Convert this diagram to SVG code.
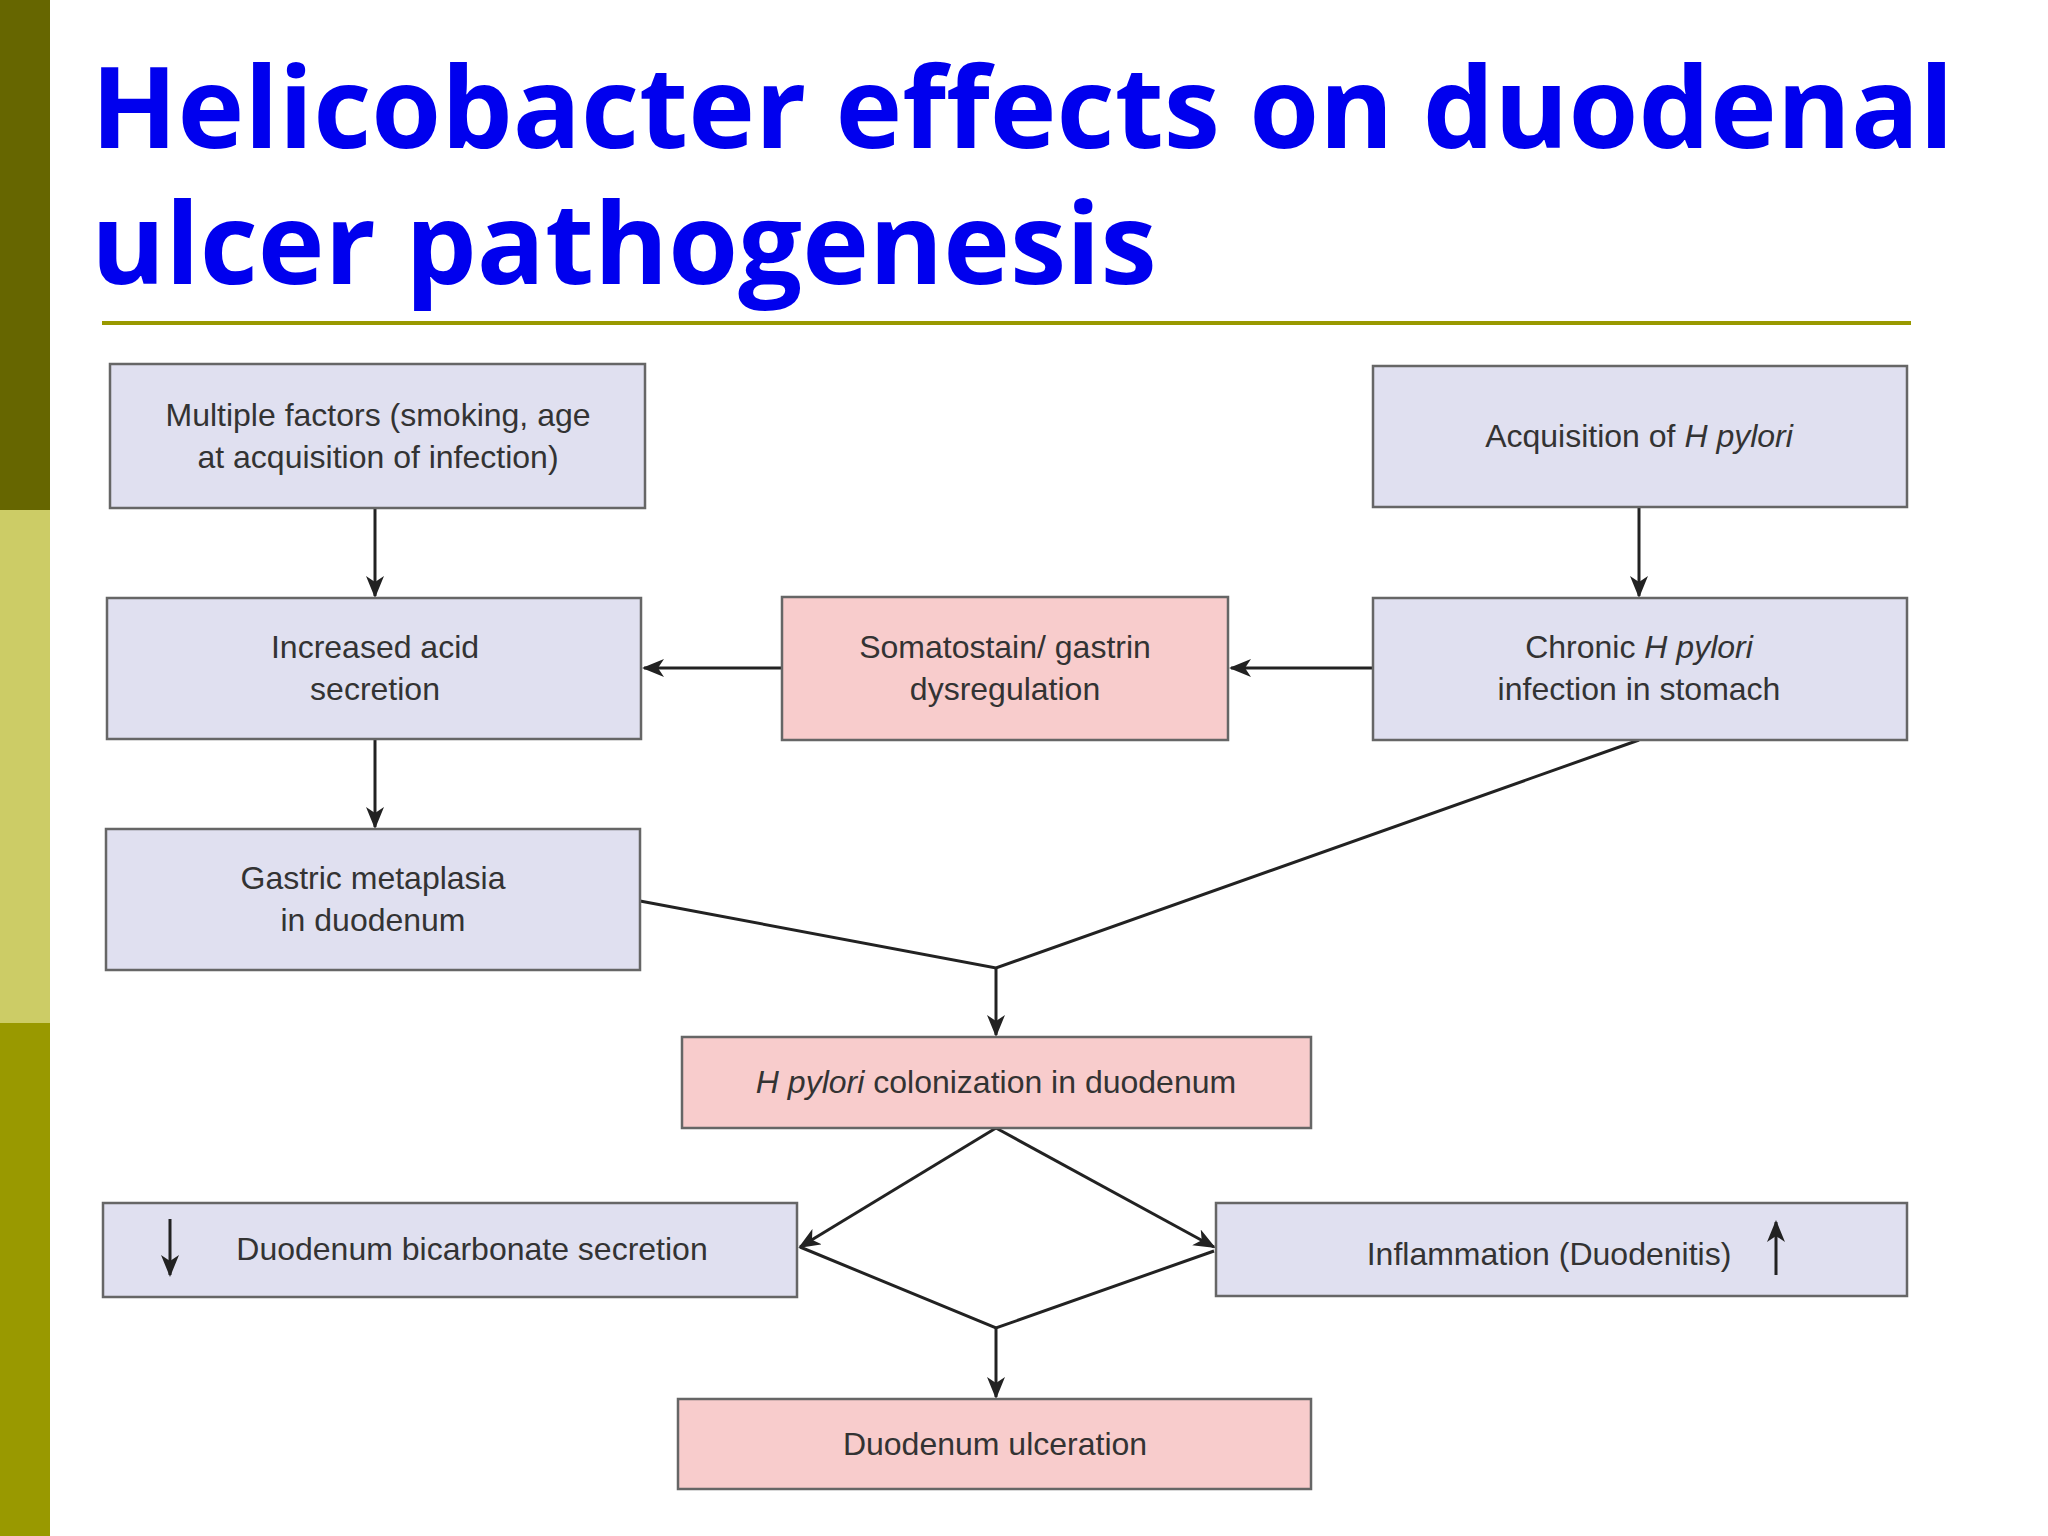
<svg xmlns="http://www.w3.org/2000/svg" width="2048" height="1536" viewBox="0 0 2048 1536">
<defs>
<marker id="ah" markerWidth="22" markerHeight="18" refX="20" refY="9" orient="auto" markerUnits="userSpaceOnUse"><path d="M0,0 L22,9 L0,18 L6,9 Z" fill="#222"/></marker>
</defs>
<style>
.bl{fill:#e0e0f0;stroke:#666;stroke-width:2.5}
.pk{fill:#f8cccc;stroke:#666;stroke-width:2.5}
.t{font-family:"Liberation Sans",Arial,sans-serif;font-size:32px;fill:#333;text-anchor:middle}
.c{stroke:#222;stroke-width:3;fill:none}
.a{stroke:#222;stroke-width:3;fill:none;marker-end:url(#ah)}
</style>
<rect width="2048" height="1536" fill="#fff"/>
<rect x="0" y="0" width="50" height="510" fill="#666600"/>
<rect x="0" y="510" width="50" height="513" fill="#cccc66"/>
<rect x="0" y="1023" width="50" height="513" fill="#999900"/>
<text x="91" y="148" font-family="'Open Sans','Noto Sans',sans-serif" font-weight="bold" font-size="113" fill="#0000ee">Helicobacter effects on duodenal</text>
<text x="91" y="284" font-family="'Open Sans','Noto Sans',sans-serif" font-weight="bold" font-size="113" fill="#0000ee">ulcer pathogenesis</text>
<line x1="102" y1="323" x2="1911" y2="323" stroke="#999900" stroke-width="4"/>
<g id="connectors">
<line class="a" x1="375" y1="508" x2="375" y2="596"/>
<line class="a" x1="1639" y1="507" x2="1639" y2="596"/>
<line class="a" x1="782" y1="668" x2="644" y2="668"/>
<line class="a" x1="1373" y1="668" x2="1231" y2="668"/>
<line class="a" x1="375" y1="739" x2="375" y2="827"/>
<polyline class="c" points="640,901 996,968 1639,740"/>
<line class="a" x1="996" y1="968" x2="996" y2="1035"/>
<line class="a" x1="996" y1="1128" x2="800" y2="1247"/>
<line class="a" x1="996" y1="1128" x2="1214" y2="1247"/>
<polyline class="c" points="800,1247 996,1328 1214,1251"/>
<line class="a" x1="996" y1="1328" x2="996" y2="1397"/>
</g>
<g id="n1"><rect class="bl" x="110" y="364" width="535" height="144"/><text class="t" x="378" y="426">Multiple factors (smoking, age</text><text class="t" x="378" y="468">at acquisition of infection)</text></g>
<g id="n2"><rect class="bl" x="1373" y="366" width="534" height="141"/><text class="t" x="1639" y="447">Acquisition of <tspan font-style="italic">H pylori</tspan></text></g>
<g id="n3"><rect class="bl" x="107" y="598" width="534" height="141"/><text class="t" x="375" y="658">Increased acid</text><text class="t" x="375" y="700">secretion</text></g>
<g id="n4"><rect class="pk" x="782" y="597" width="446" height="143"/><text class="t" x="1005" y="658">Somatostain/ gastrin</text><text class="t" x="1005" y="700">dysregulation</text></g>
<g id="n5"><rect class="bl" x="1373" y="598" width="534" height="142"/><text class="t" x="1639" y="658">Chronic <tspan font-style="italic">H pylori</tspan></text><text class="t" x="1639" y="700">infection in stomach</text></g>
<g id="n6"><rect class="bl" x="106" y="829" width="534" height="141"/><text class="t" x="373" y="889">Gastric metaplasia</text><text class="t" x="373" y="931">in duodenum</text></g>
<g id="n7"><rect class="pk" x="682" y="1037" width="629" height="91"/><text class="t" x="996" y="1093"><tspan font-style="italic">H pylori</tspan> colonization in duodenum</text></g>
<g id="n8"><rect class="bl" x="103" y="1203" width="694" height="94"/><text class="t" x="472" y="1260">Duodenum bicarbonate secretion</text><line class="a" x1="170" y1="1219" x2="170" y2="1275" stroke-width="2.5"/></g>
<g id="n9"><rect class="bl" x="1216" y="1203" width="691" height="93"/><text class="t" x="1549" y="1265">Inflammation (Duodenitis)</text><line class="a" x1="1776" y1="1275" x2="1776" y2="1222" stroke-width="2.5"/></g>
<g id="n10"><rect class="pk" x="678" y="1399" width="633" height="90"/><text class="t" x="995" y="1455">Duodenum ulceration</text></g>
</svg>
